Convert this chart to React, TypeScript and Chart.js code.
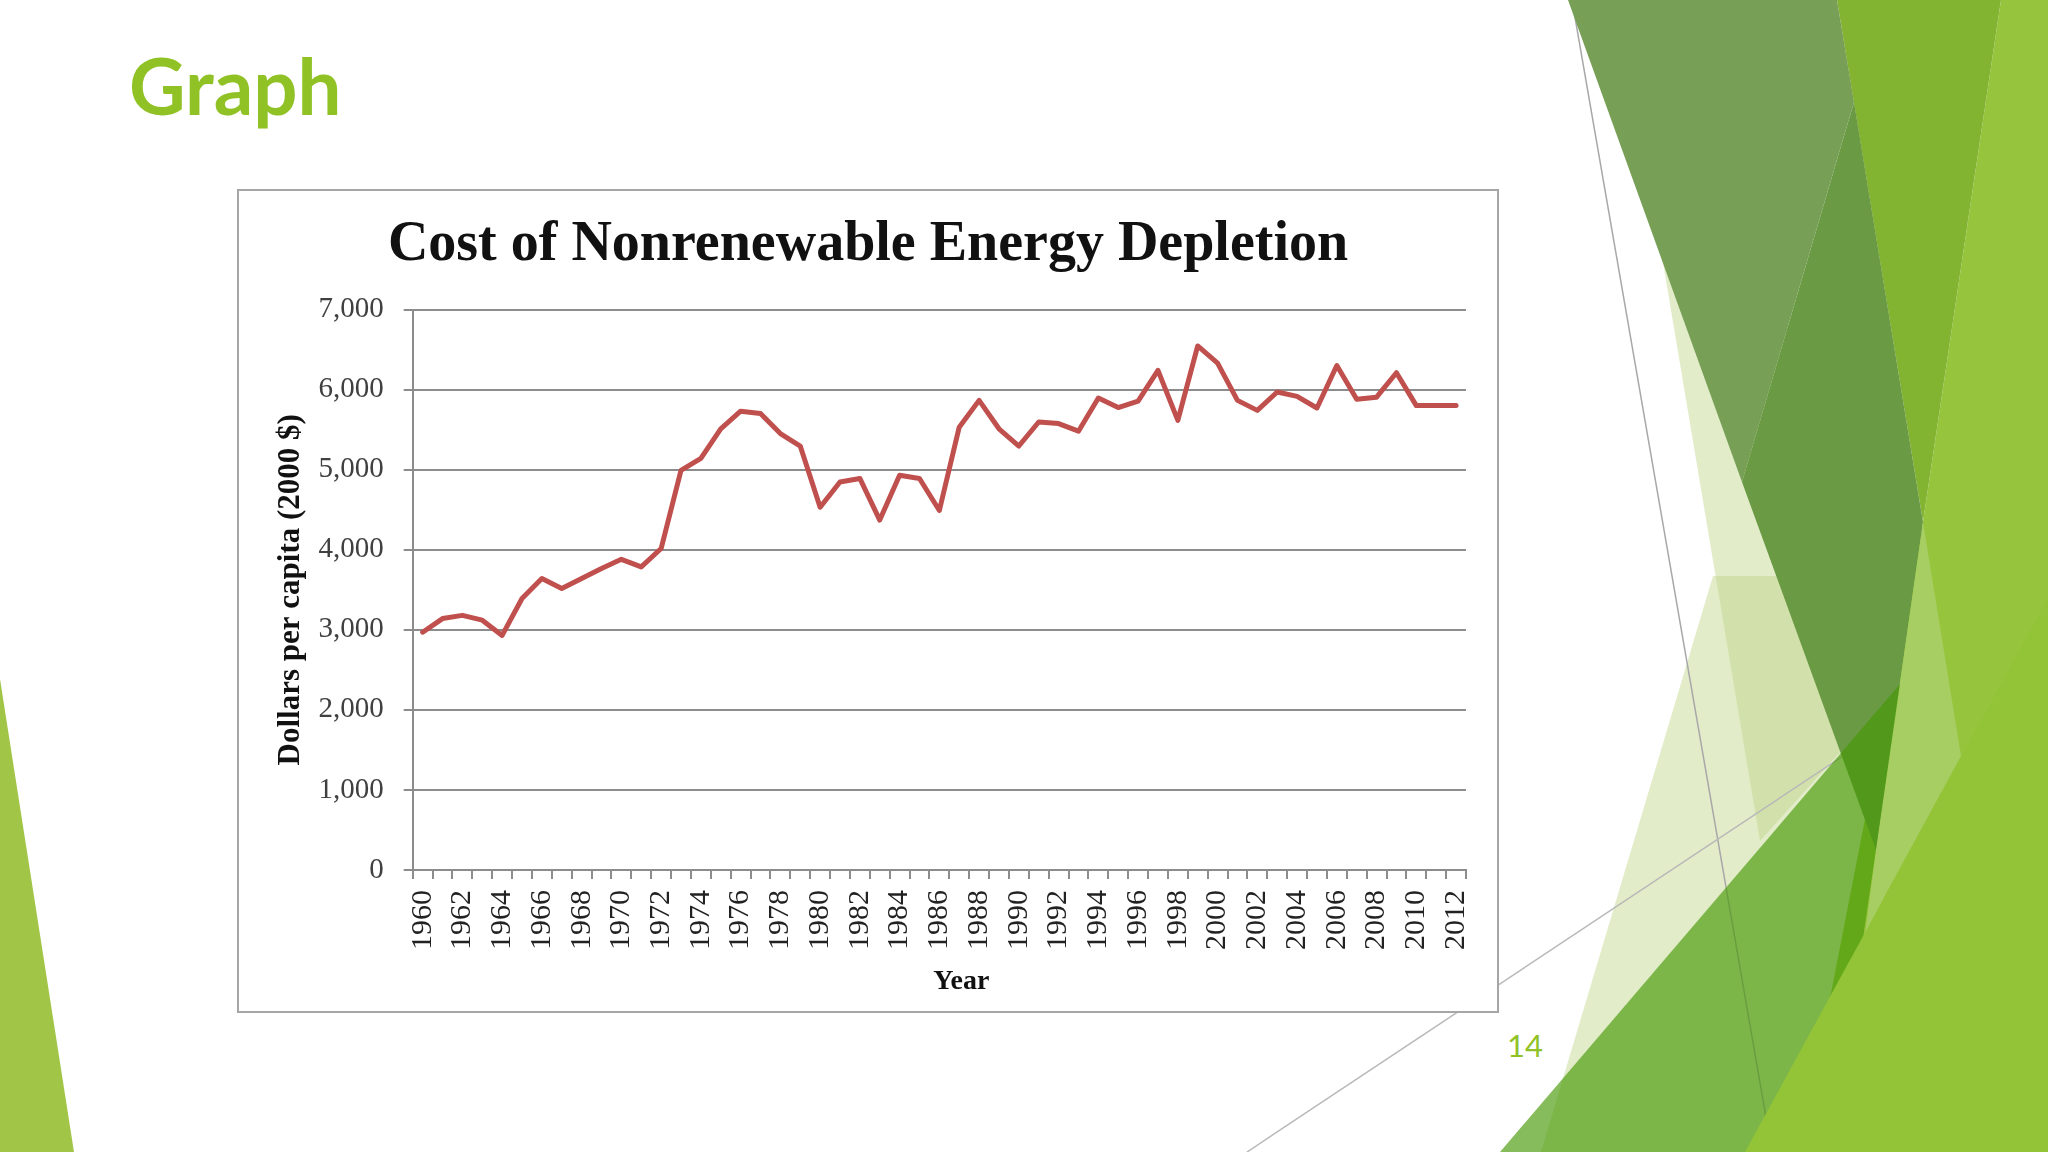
import { useEffect, useRef } from "react";
import { Chart, registerables } from "chart.js";

Chart.register(...registerables);

// Years on the category axis
const years = [
  "1960", "1961", "1962", "1963", "1964", "1965", "1966", "1967", "1968", "1969",
  "1970", "1971", "1972", "1973", "1974", "1975", "1976", "1977", "1978", "1979",
  "1980", "1981", "1982", "1983", "1984", "1985", "1986", "1987", "1988", "1989",
  "1990", "1991", "1992", "1993", "1994", "1995", "1996", "1997", "1998", "1999",
  "2000", "2001", "2002", "2003", "2004", "2005", "2006", "2007", "2008", "2009",
  "2010", "2011", "2012",
];

// Cost of nonrenewable energy depletion, dollars per capita (2000 $)
const costPerCapita = [
  2970, 3140, 3180, 3120, 2930, 3390, 3640, 3515, 3640, 3765,
  3880, 3785, 4015, 4990, 5140, 5510, 5730, 5700, 5450, 5295,
  4530, 4845, 4890, 4370, 4930, 4890, 4490, 5530, 5865, 5510,
  5295, 5595, 5575, 5480, 5895, 5775, 5855, 6240, 5615, 6545,
  6330, 5865, 5740, 5970, 5915, 5770, 6300, 5880, 5905, 6210,
  5800, 5800, 5800,
];

const yMin = 0;
const yMax = 7000;
const yStep = 1000;

const chartTitle = "Cost of Nonrenewable Energy Depletion";
const xTitle = "Year";
const yTitle = "Dollars per capita (2000 $)";

// Decorative slide facets (back layer)
const facets: { pts: string; fill: string }[] = [
  { pts: "0,679 74,1152 0,1152", fill: "#a1c647" },
  { pts: "1619,0 1720,0 1870,719 1760,841", fill: "rgba(191,213,135,0.45)" },
  { pts: "1713,576 1800,576 1905,800 1835,1152 1541,1152", fill: "rgba(191,213,135,0.45)" },
];
// Decorative slide facets (front layer)
const facetsFront: { pts: string; fill: string }[] = [
  { pts: "2001,0 2048,0 2048,1152 1800,1152 1923,522", fill: "#97c43d" },
  { pts: "1837,0 2001,0 1923,522", fill: "#83b431" },
  { pts: "1568,0 1837,0 1854,102 1742,482", fill: "#779f56" },
  { pts: "1742,482 1854,102 1923,522 1876,850", fill: "#6a9a44" },
  { pts: "1923,522 1961,756 1888,890 1865,935 1876,850", fill: "#a6ce63" },
  { pts: "1500,1152 1900,684 1832,1152", fill: "rgba(70,153,6,0.655)" },
  { pts: "2048,598 2048,1152 1745,1152", fill: "#93c437" },
];

const serif = "'Liberation Serif', 'Times New Roman', serif";
const gridGray = "#8c8c8c";

// Draws the x-axis caption a little right of the plot centre, as in the source chart
const yearCaption = {
  id: "yearCaption",
  afterDraw(chart: any) {
    const { ctx, chartArea } = chart;
    ctx.save();
    ctx.font = `bold 28px ${serif}`;
    ctx.fillStyle = "#111111";
    ctx.textAlign = "center";
    ctx.textBaseline = "middle";
    ctx.fillText(xTitle, (chartArea.left + chartArea.right) / 2 + 22, chartArea.bottom + 112);
    ctx.restore();
  },
};

function CostChart() {
  const ref = useRef<HTMLCanvasElement>(null);

  useEffect(() => {
    if (!ref.current) return;
    const chart = new Chart(ref.current, {
      type: "line",
      data: {
        labels: years,
        datasets: [
          {
            data: costPerCapita,
            borderColor: "#c0504d",
            borderWidth: 5,
            pointRadius: 0,
            tension: 0,
            fill: false,
            borderJoinStyle: "round",
            borderCapStyle: "round",
          },
        ],
      },
      options: {
        animation: false,
        responsive: false,
        maintainAspectRatio: false,
        layout: { padding: 0 },
        plugins: {
          legend: { display: false },
          tooltip: { enabled: false },
          title: {
            display: true,
            text: chartTitle,
            color: "#111111",
            font: { family: serif, size: 56, weight: "bold" },
            padding: { top: 21.4, bottom: 29.9 },
          },
        },
        scales: {
          x: {
            type: "category",
            offset: true,
            grid: {
              display: true,
              drawOnChartArea: false,
              drawTicks: true,
              tickLength: 9,
              offset: true,
              color: gridGray,
              lineWidth: 2,
            },
            border: { display: true, color: gridGray, width: 2 },
            ticks: {
              autoSkip: false,
              minRotation: 90,
              maxRotation: 90,
              padding: 11,
              color: "#222222",
              font: { family: serif, size: 30 },
              callback: function (this: any, val: any, index: number) {
                return index % 2 === 0 ? this.getLabelForValue(val) : "";
              },
            },
            title: { display: false },
            afterFit: (s: any) => {
              s.height = 141;
              s.paddingLeft = 0;
              s.paddingRight = 0;
            },
          },
          y: {
            min: yMin,
            max: yMax,
            ticks: {
              stepSize: yStep,
              padding: 20,
              color: "#404040",
              font: { family: serif, size: 29 },
              callback: (v: any) => Number(v).toLocaleString("en-US"),
            },
            grid: { color: gridGray, lineWidth: 2, tickLength: 9 },
            border: { display: true, color: gridGray, width: 2 },
            title: {
              display: true,
              text: yTitle,
              color: "#111111",
              font: { family: serif, size: 31, weight: "bold" },
              padding: { top: 33, bottom: 0 },
            },
            afterFit: (s: any) => {
              s.width = 173.7;
            },
          },
          // Empty right-hand margin so the plot ends short of the frame
          yMargin: {
            type: "linear",
            position: "right",
            display: true,
            grid: { display: false, drawTicks: false },
            border: { display: false },
            ticks: { display: false },
            afterFit: (s: any) => {
              s.width = 31;
            },
          },
        },
      },
      plugins: [yearCaption],
    } as any);
    return () => chart.destroy();
  }, []);

  return <canvas ref={ref} width={1258} height={820} style={{ width: 1258, height: 820, display: "block" }} />;
}

export default function App() {
  return (
    <div
      style={{
        position: "absolute",
        left: 0,
        top: 0,
        width: 2048,
        height: 1152,
        overflow: "hidden",
        background: "#ffffff",
      }}
    >
      <svg width={2048} height={1152} style={{ position: "absolute", left: 0, top: 0 }}>
        {facets.map((f, i) => (
          <polygon key={"b" + i} points={f.pts} fill={f.fill} />
        ))}
        <line x1={1572} y1={0} x2={1772} y2={1152} stroke="#a8a8a8" strokeWidth={1.5} />
        <line x1={1247} y1={1152} x2={1843} y2={756} stroke="#b8b8b8" strokeWidth={1.5} />
        {facetsFront.map((f, i) => (
          <polygon key={"f" + i} points={f.pts} fill={f.fill} />
        ))}
      </svg>

      <div
        style={{
          position: "absolute",
          left: 129,
          top: 46,
          fontFamily: "Lato, 'Open Sans', sans-serif",
          fontWeight: 700,
          fontSize: 78,
          lineHeight: "78px",
          color: "#90c226",
          whiteSpace: "nowrap",
        }}
      >
        Graph
      </div>

      <div
        style={{
          position: "absolute",
          left: 237,
          top: 189,
          border: "2px solid #a6a6a6",
          background: "#ffffff",
          width: 1258,
          height: 820,
        }}
      >
        <CostChart />
      </div>

      <div
        style={{
          position: "absolute",
          left: 1507,
          top: 1030,
          fontFamily: "Lato, 'Open Sans', sans-serif",
          fontSize: 31,
          lineHeight: "31px",
          color: "#90c226",
        }}
      >
        14
      </div>
    </div>
  );
}
